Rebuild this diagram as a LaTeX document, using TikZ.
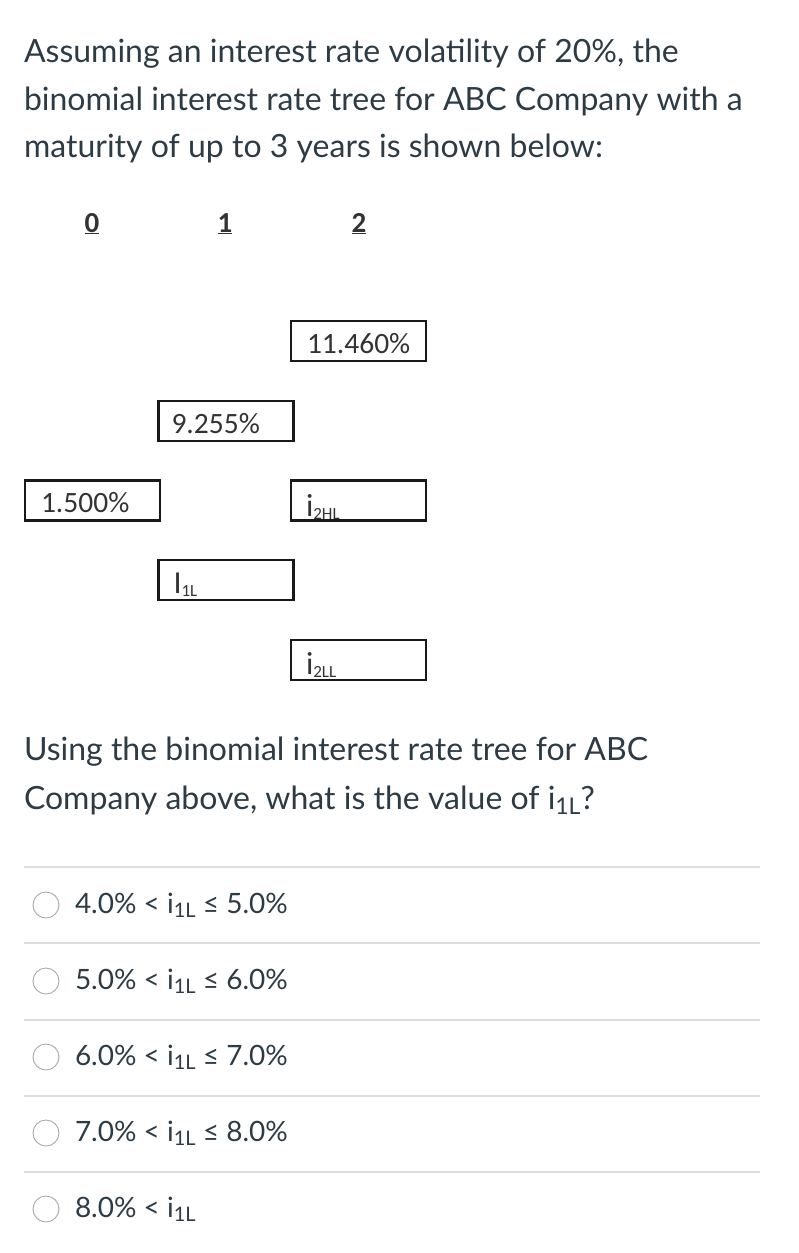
\documentclass[tikz,border=0pt]{standalone}
\usepackage{fontspec}
\setmainfont{Lato}
\newfontfamily\calibfont{Carlito}
\definecolor{canvas}{HTML}{2D3B45}
\definecolor{sepgray}{HTML}{DDDDDD}
\definecolor{boxtext}{HTML}{333333}
\definecolor{radiogray}{HTML}{A8A8A8}
\newcommand\optsub[1]{\raisebox{-4.5pt}{\fontsize{20}{20}\selectfont #1}}
\newcommand\qsub[1]{\raisebox{-5.5pt}{\fontsize{23}{24}\selectfont #1}}
\newcommand\boxsub[1]{\raisebox{-3pt}{\fontsize{17}{18}\selectfont #1}}
\begin{document}
\begin{tikzpicture}[x=1pt,y=-1pt,
  every node/.style={inner sep=0pt, outer sep=0pt},
  prose/.style={anchor=base west, text=canvas, font=\fontsize{32}{38}\selectfont},
  opt/.style={anchor=base west, text=canvas, font=\fontsize{28}{32}\selectfont},
  ratebox/.style={draw=black!90, line width=2.2pt, minimum width=135pt, minimum height=40pt, anchor=north west},
  boxlabel/.style={anchor=base west, text=boxtext, font=\calibfont\fontsize{29.5}{32}\selectfont},
  ilabel/.style={anchor=base west, text=boxtext, font=\calibfont\fontsize{32}{34}\selectfont},
  hdr/.style={anchor=base, text=boxtext, font=\calibfont\bfseries\fontsize{29}{32}\selectfont},
  sep/.style={draw=sepgray, line width=1.6pt},
  radio/.style={circle, draw=radiogray, fill=white, minimum size=26pt, line width=0.9pt}
]
\useasboundingbox (0,0) rectangle (798,1253);

% intro text
\node[prose] (t1) at (24,62.7) {Assuming an interest rate volatility of 20\%, the};
\node[prose] (t2) at (24,110) {binomial interest rate tree for ABC Company with a};
\node[prose] (t3) at (24,157) {maturity of up to 3 years is shown below:};

% period headers
\node[hdr] (h0) at (92,232) {\underline{0}};
\node[hdr] (h1) at (225,232) {\underline{1}};
\node[hdr] (h2) at (359,232) {\underline{2}};

% rate boxes
\node[ratebox] (b2h)  at (291,321) {};
\node[ratebox] (b1h)  at (158.5,401) {};
\node[ratebox] (b0)   at (25,480.5) {};
\node[ratebox] (b2hl) at (291,480.5) {};
\node[ratebox] (b1l)  at (158.5,560) {};
\node[ratebox] (b2ll) at (291,640) {};

\node[boxlabel] (l2h)  at ([xshift=16pt,yshift=-32pt]b2h.north west) {11.460\%};
\node[boxlabel] (l1h)  at ([xshift=13pt,yshift=-32pt]b1h.north west) {9.255\%};
\node[boxlabel] (l0)   at ([xshift=16pt,yshift=-32pt]b0.north west) {1.500\%};
\node[ilabel] (l2hl) at ([xshift=15pt,yshift=-36pt]b2hl.north west) {i\boxsub{2HL}};
\node[ilabel] (l1l)  at ([xshift=15pt,yshift=-33pt]b1l.north west) {I\boxsub{1L}};
\node[ilabel] (l2ll) at ([xshift=15pt,yshift=-34pt]b2ll.north west) {i\boxsub{2LL}};

% question
\node[prose] (q1) at (24,760) {Using the binomial interest rate tree for ABC};
\node[prose] (q2) at (24,809) {Company above, what is the value of i\qsub{1L}?};

% separators
\coordinate (s1a) at (24,867);  \coordinate (s1b) at (760,867);
\coordinate (s2a) at (24,943);  \coordinate (s2b) at (760,943);
\coordinate (s3a) at (24,1020); \coordinate (s3b) at (760,1020);
\coordinate (s4a) at (24,1096); \coordinate (s4b) at (760,1096);
\coordinate (s5a) at (24,1172); \coordinate (s5b) at (760,1172);
\draw[sep] (s1a) -- (s1b);
\draw[sep] (s2a) -- (s2b);
\draw[sep] (s3a) -- (s3b);
\draw[sep] (s4a) -- (s4b);
\draw[sep] (s5a) -- (s5b);

% options
\node[radio] (r1) at (46,905) {};
\node[radio] (r2) at (46,981) {};
\node[radio] (r3) at (46,1057) {};
\node[radio] (r4) at (46,1133) {};
\node[radio] (r5) at (46,1209) {};
\node[opt] (o1) at (75,913) {4.0\% < i\optsub{1L} ≤ 5.0\%};
\node[opt] (o2) at (75,989) {5.0\% < i\optsub{1L} ≤ 6.0\%};
\node[opt] (o3) at (75,1065) {6.0\% < i\optsub{1L} ≤ 7.0\%};
\node[opt] (o4) at (75,1141) {7.0\% < i\optsub{1L} ≤ 8.0\%};
\node[opt] (o5) at (75,1217) {8.0\% < i\optsub{1L}};
\end{tikzpicture}
\end{document}
